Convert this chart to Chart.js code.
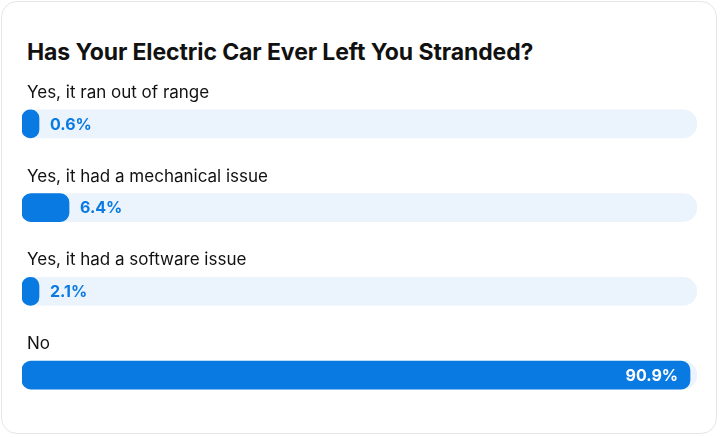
<!DOCTYPE html>
<html>
<head>
<meta charset="utf-8">
<script src="https://cdn.jsdelivr.net/npm/chart.js@4"></script>
<style>
  html, body { margin: 0; padding: 0; background: #fff; }
  body { width: 720px; height: 437px; position: relative; overflow: hidden; font-family: Inter, "Open Sans", sans-serif; }
  .card { position: absolute; left: 1px; top: 1px; width: 716px; height: 433px; border: 1px solid #e4e6e8; border-radius: 16px; box-sizing: border-box; }
  h1 { position: absolute; left: 27px; top: 38px; margin: 0; font-size: 23px; font-weight: 700; color: #111; letter-spacing: -0.1px; }
  .wrap { position: absolute; left: 0; top: 0; width: 720px; height: 437px; }
</style>
</head>
<body>
<div class="card"></div>
<h1>Has Your Electric Car Ever Left You Stranded?</h1>
<div class="wrap"><canvas id="chart"></canvas></div>
<script>
// Survey answers and their share of responses (%)
const answers = ['Yes, it ran out of range', 'Yes, it had a mechanical issue', 'Yes, it had a software issue', 'No'];
const shares = [0.6, 6.4, 2.1, 90.9];
const scaleMax = 91.85;
const trackValues = answers.map(() => scaleMax);

const blue = '#0A7AE3';
const trackColor = '#EBF4FC';

document.addEventListener('DOMContentLoaded', function () {
    // Draws the answer text above each bar and the percentage beside it
    const labelPlugin = {
        id: 'barLabels',
        afterDatasetsDraw(chart) {
            const ctx = chart.ctx;
            const meta = chart.getDatasetMeta(0);
            ctx.save();
            meta.data.forEach((bar, i) => {
                const y = bar.y;
                // answer text
                ctx.font = '400 17px Inter, sans-serif';
                ctx.fillStyle = '#111';
                ctx.textAlign = 'left';
                ctx.textBaseline = 'middle';
                ctx.fillText(answers[i], 27, y - 31);
                // value
                const text = shares[i].toFixed(1) + '%';
                ctx.font = '700 16px Inter, sans-serif';
                if (shares[i] > 50) {
                    ctx.fillStyle = '#fff';
                    ctx.textAlign = 'right';
                    ctx.fillText(text, bar.x - 12, y + 1);
                } else {
                    ctx.fillStyle = blue;
                    ctx.textAlign = 'left';
                    ctx.fillText(text, bar.x + 11, y + 1);
                }
            });
            ctx.restore();
        }
    };

    new Chart(document.getElementById('chart'), {
        type: 'bar',
        data: {
            labels: answers,
            datasets: [{
                data: shares,
                backgroundColor: blue,
                borderRadius: 9,
                borderSkipped: false,
                barThickness: 28,
                minBarLength: 17,
                grouped: false,
                order: 0
            }, {
                data: trackValues,
                backgroundColor: trackColor,
                borderRadius: 14,
                borderSkipped: false,
                barThickness: 28,
                grouped: false,
                order: 1
            }]
        },
        options: {
            indexAxis: 'y',
            responsive: true,
            maintainAspectRatio: false,
            animation: false,
            layout: { padding: { left: 22, right: 23, top: 82, bottom: 20 } },
            scales: {
                x: { display: false, min: 0, max: scaleMax },
                y: { display: false, offset: true }
            },
            plugins: {
                legend: { display: false },
                tooltip: { enabled: false }
            }
        },
        plugins: [labelPlugin]
    });
});
</script>
</body>
</html>
